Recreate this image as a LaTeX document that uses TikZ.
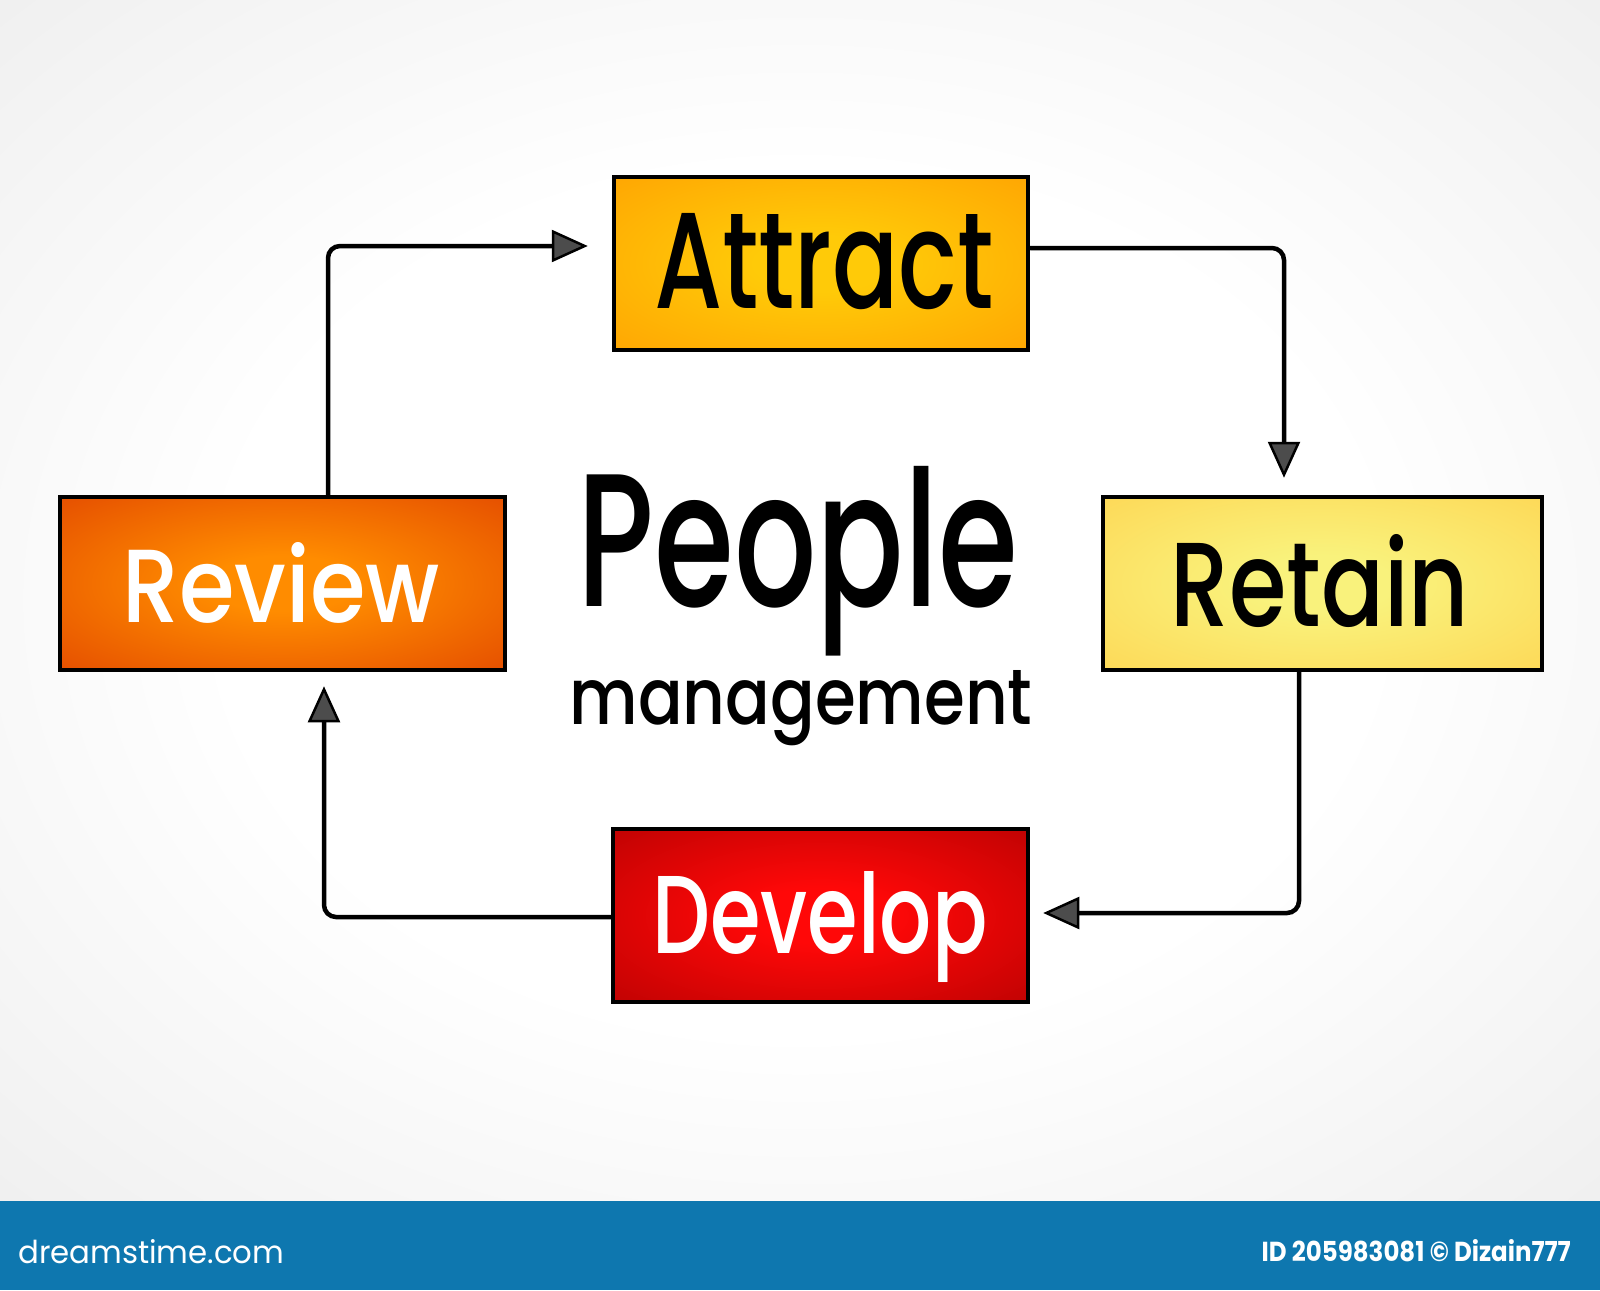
\documentclass[tikz,border=0pt]{standalone}
\usepackage{fontspec}
\setmainfont{Poppins}
\newfontfamily\medfont{Poppins Medium}
\usepackage{graphicx}
\usetikzlibrary{arrows.meta,calc}
\definecolor{bgA}{HTML}{E3E3E3}
\definecolor{bgB}{HTML}{D2D2D2}
\definecolor{banner}{HTML}{0E77AF}
\definecolor{atC}{HTML}{FFCA08}
\definecolor{atE}{HTML}{FF9400}
\definecolor{reC}{HTML}{F9F27C}
\definecolor{reE}{HTML}{FFCC45}
\definecolor{rvC}{HTML}{FF8C00}
\definecolor{rvE}{HTML}{D83000}
\definecolor{dvC}{HTML}{FF0808}
\definecolor{dvE}{HTML}{A00000}
\pgfdeclareradialshading{bgshade}{\pgfpoint{0bp}{0bp}}{color(0bp)=(white); color(18bp)=(white); color(50bp)=(bgA); color(72bp)=(bgB)}
\pgfdeclareradialshading{atshade}{\pgfpoint{0bp}{0bp}}{color(0bp)=(atC); color(8bp)=(atC); color(50bp)=(atE); color(72bp)=(atE)}
\pgfdeclareradialshading{reshade}{\pgfpoint{0bp}{0bp}}{color(0bp)=(reC); color(8bp)=(reC); color(50bp)=(reE); color(72bp)=(reE)}
\pgfdeclareradialshading{rvshade}{\pgfpoint{0bp}{0bp}}{color(0bp)=(rvC); color(8bp)=(rvC); color(50bp)=(rvE); color(72bp)=(rvE)}
\pgfdeclareradialshading{dvshade}{\pgfpoint{0bp}{0bp}}{color(0bp)=(dvC); color(8bp)=(dvC); color(50bp)=(dvE); color(72bp)=(dvE)}
\begin{document}
\begin{tikzpicture}[x=1pt,y=-1pt,
  stagebox/.style={draw=black, line width=4.5pt, shade, rectangle, inner sep=0pt, minimum height=173pt},
  lbl/.style={anchor=base, inner sep=0pt, font=\medfont},
  conn/.style={draw=black, line width=4.5pt, rounded corners=12pt, line cap=round,
    -{Triangle[length=36pt,width=32pt,fill=black!70,line width=2.5pt]}}]
\useasboundingbox (0,0) rectangle (1600,1290);
\shade[shading=bgshade] (0,0) rectangle (1600,1201);
\fill[banner] (0,1201) rectangle (1600,1290);
% boxes
\node[stagebox, shading=atshade, minimum width=414pt] (attract) at (821,263.5) {};
\node[stagebox, shading=reshade, minimum width=439pt] (retain) at (1322.5,583.5) {};
\node[stagebox, shading=rvshade, minimum width=445pt] (review) at (282.5,583.5) {};
\node[stagebox, shading=dvshade, minimum width=415pt] (develop) at (820.5,915.5) {};
% labels
\node[lbl, text=black] (attractT) at (824,308) {\resizebox{340pt}{95pt}{Attract}};
\node[lbl, text=black] (retainT) at (1320,626) {\resizebox{298pt}{92pt}{Retain}};
\node[lbl, text=white] (reviewT) at (281,622) {\resizebox{317pt}{80pt}{Review}};
\node[lbl, text=white] (developT) at (820,953) {\resizebox{335pt}{82pt}{Develop}};
\node[lbl, text=black] (people) at (798,606) {\resizebox{440pt}{140pt}{People}};
\node[lbl, text=black] (mgmt) at (801,724) {\resizebox{463pt}{54pt}{management}};
% connectors
\draw[conn, shorten >=24pt] ($(review.north)+(45.5,0)$) |- ($(attract.west)+(0,-17.5)$);
\draw[conn, shorten >=17pt] ($(attract.east)+(0,-15.5)$) -| ($(retain.north)+(-38.5,0)$);
\draw[conn, shorten >=13pt] ($(retain.south)+(-23.5,0)$) |- ($(develop.east)+(0,-2.5)$);
\draw[conn, shorten >=14pt] ($(develop.west)+(0,1.5)$) -| ($(review.south)+(41.5,0)$);
% banner texts
\node[anchor=base west, inner sep=0pt, text=white] (dreams) at (18,1263) {\resizebox{266pt}{24pt}{dreamstime.com}};
\node[anchor=base east, inner sep=0pt, text=white, font=\bfseries] (idtext) at (1571,1261) {\resizebox{309pt}{22pt}{ID 205983081 © Dizain777}};
\end{tikzpicture}
\end{document}
